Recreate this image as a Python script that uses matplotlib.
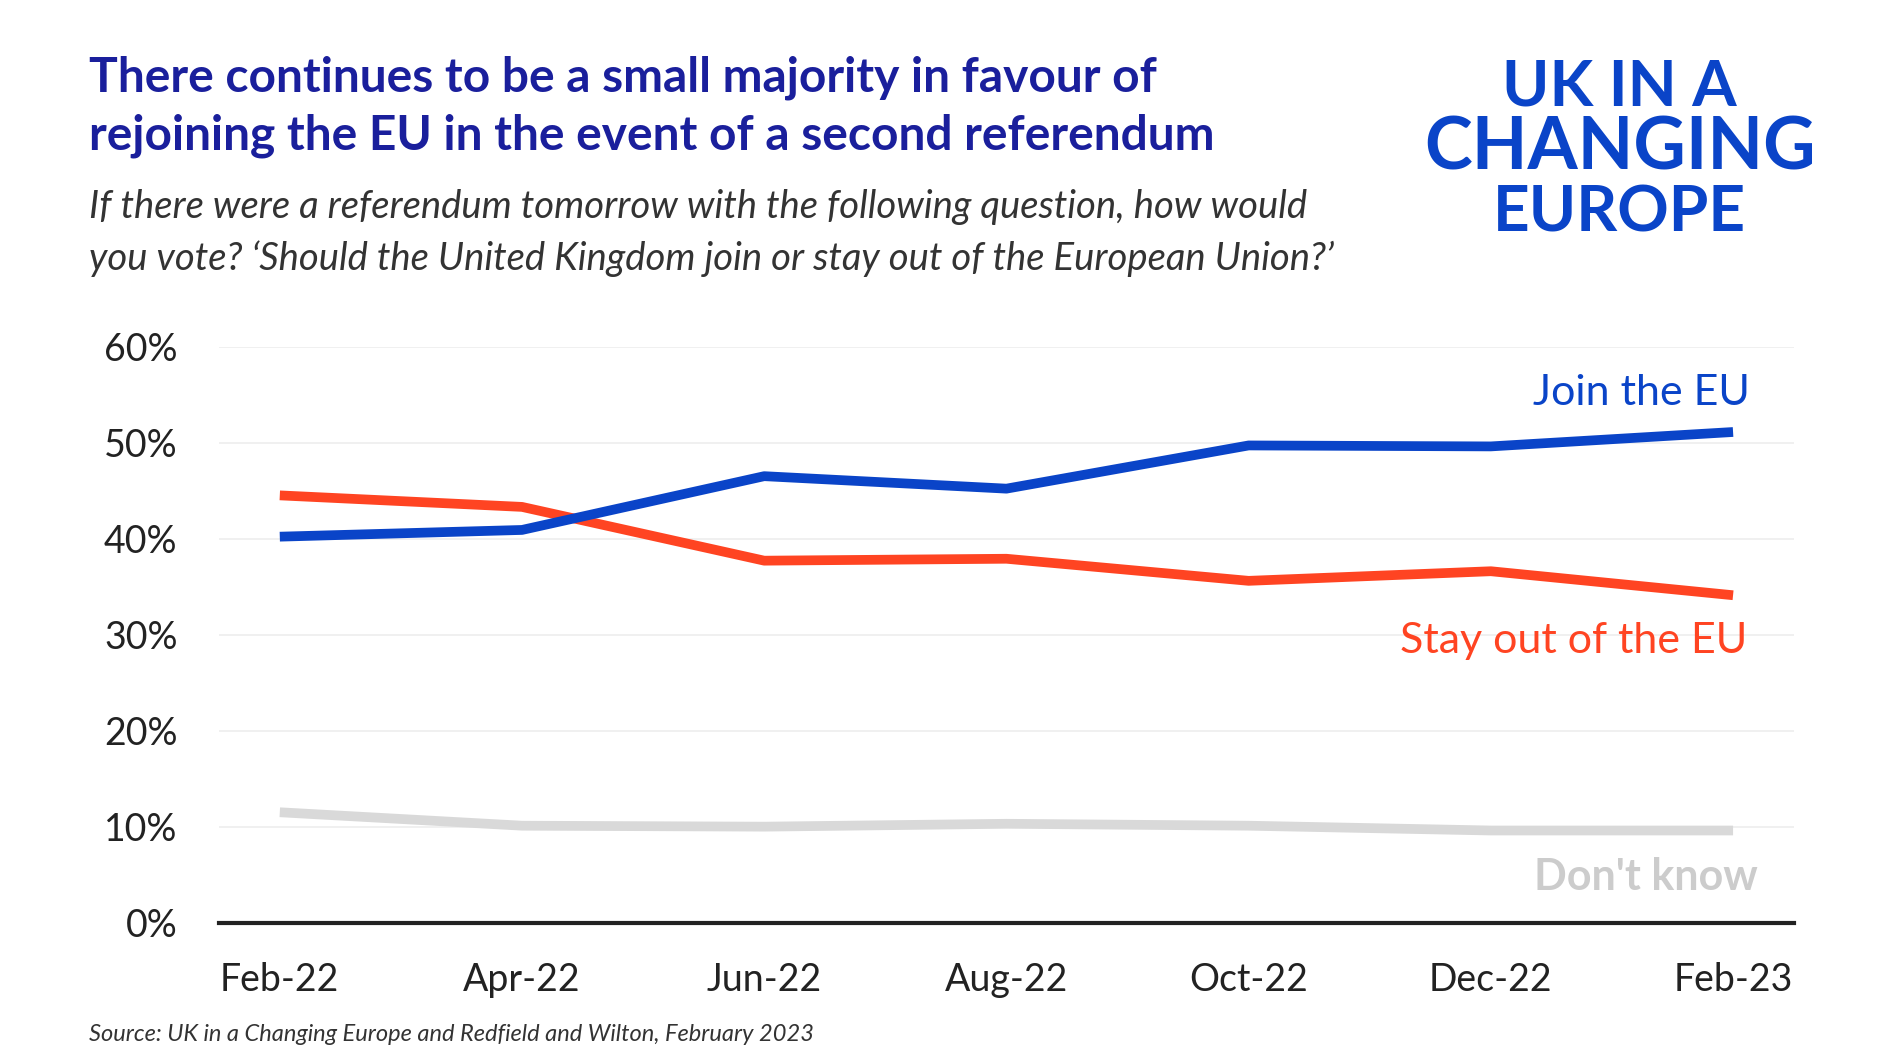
import matplotlib
matplotlib.use("Agg")
import matplotlib.pyplot as plt

months = ["Feb-22", "Apr-22", "Jun-22", "Aug-22", "Oct-22", "Dec-22", "Feb-23"]
join_eu = [40.2, 40.9, 46.5, 45.2, 49.7, 49.6, 51.1]
stay_out = [44.5, 43.3, 37.7, 37.9, 35.6, 36.6, 34.1]
dont_know = [11.5, 10.1, 10.0, 10.3, 10.1, 9.6, 9.6]
yticks = [0, 10, 20, 30, 40, 50, 60]

BLUE = "#0a44c8"; RED = "#ff4422"; GREY = "#d9d9d9"; NAVY = "#1a1f9c"
plt.rcParams['font.family'] = ['Lato', 'DejaVu Sans']

fig = plt.figure(figsize=(18.9, 10.63), dpi=100)
ax = fig.add_axes([0.116, 0.132, 0.833, 0.542])
x = list(range(len(months)))
ax.plot(x, dont_know, color=GREY, lw=7, solid_capstyle='butt')
ax.plot(x, stay_out, color=RED, lw=7, solid_capstyle='butt')
ax.plot(x, join_eu, color=BLUE, lw=7, solid_capstyle='butt')
ax.set_xlim(-0.25, 6.25)
ax.set_ylim(0, 60)
ax.set_yticks(yticks)
ax.set_yticklabels([f"{v}%" for v in yticks], fontsize=27, color="#222222")
ax.set_xticks(x)
ax.set_xticklabels(months, fontsize=27, color="#222222")
ax.tick_params(axis='x', length=0, pad=28)
ax.tick_params(axis='y', length=0, pad=30)
ax.grid(axis='y', color="#eeeeee", lw=1.2)
for s in ["top", "right", "left"]:
    ax.spines[s].set_visible(False)
ax.spines["bottom"].set_linewidth(3)
ax.spines["bottom"].set_color("#222222")
ax.set_axisbelow(True)

ax.text(6.07, 55.2, "Join the EU", color=BLUE, fontsize=31, ha='right', va='center')
ax.text(6.06, 29.3, "Stay out of the EU", color=RED, fontsize=31, ha='right', va='center')
ax.text(6.1, 4.8, "Don't know", color="#cccccc", fontsize=31, ha='right', va='center', fontweight='bold')

fig.text(0.047, 0.948, "There continues to be a small majority in favour of\nrejoining the EU in the event of a second referendum",
         color=NAVY, fontsize=34.5, fontweight='bold', va='top', linespacing=1.38)
fig.text(0.047, 0.822, "If there were a referendum tomorrow with the following question, how would\nyou vote? \u2018Should the United Kingdom join or stay out of the European Union?\u2019",
         color="#333333", fontsize=27.5, style='italic', va='top', linespacing=1.5)
fig.text(0.047, 0.017, "Source: UK in a Changing Europe and Redfield and Wilton, February 2023",
         color="#333333", fontsize=17, style='italic', va='bottom')
fig.text(0.857, 0.918, "UK IN A", color=BLUE, fontsize=46, fontweight='bold', ha='center', va='center')
fig.text(0.857, 0.860, "CHANGING", color=BLUE, fontsize=52, fontweight='bold', ha='center', va='center')
fig.text(0.857, 0.800, "EUROPE", color=BLUE, fontsize=46, fontweight='bold', ha='center', va='center')

fig.savefig("out.png", dpi=100, facecolor="white")
